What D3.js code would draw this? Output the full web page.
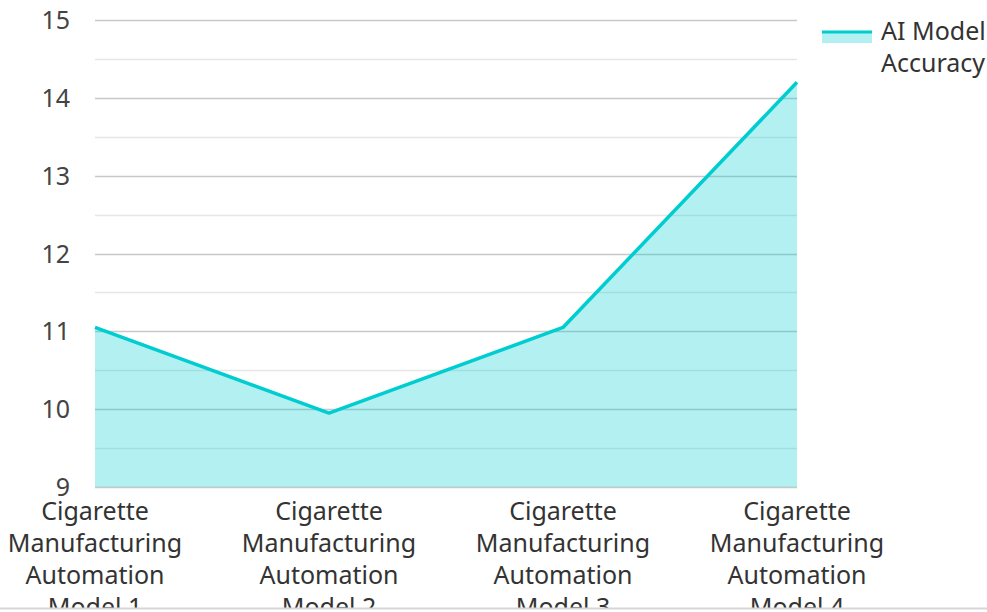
<!DOCTYPE html>
<html lang="en">
    <head>
        <meta charset="UTF-8" />
        <title>AI Model Accuracy</title>
        <style>
            body {
                margin: 0;
                background: #fff;
                font-family: 'Noto Sans', sans-serif;
            }
            .tick-label {
                font-size: 25px;
                fill: #444;
            }
            .cat-label {
                font-size: 25px;
                fill: #333;
            }
            .legend text {
                font-size: 25px;
                fill: #333;
            }
        </style>
    </head>
    <body>
        <svg width="987" height="612"></svg>
        <script src="https://d3js.org/d3.v7.min.js"></script>
        <script>
            const categories = [
                'Cigarette Manufacturing Automation Model 1',
                'Cigarette Manufacturing Automation Model 2',
                'Cigarette Manufacturing Automation Model 3',
                'Cigarette Manufacturing Automation Model 4'
            ];
            const accuracy = [11.05, 9.95, 11.05, 14.2];
            const majorTicks = [9, 10, 11, 12, 13, 14, 15];
            const minorTicks = [9.5, 10.5, 11.5, 12.5, 13.5, 14.5];
            const seriesName = ['AI Model', 'Accuracy'];

            const width = 987,
                height = 612;
            const color = '#00cdd0';
            const svg = d3.select('svg');

            const x = d3.scalePoint().domain(categories).range([95, 797]);
            const y = d3.scaleLinear().domain([9, 15]).range([487, 20]);

            // clip so the last label row gets cut like the original
            svg.append('clipPath').attr('id', 'page').append('rect').attr('width', width).attr('height', 608);
            const g = svg.append('g').attr('clip-path', 'url(#page)');

            g.selectAll('line.minor')
                .data(minorTicks)
                .enter()
                .append('line')
                .attr('x1', 95)
                .attr('x2', 797)
                .attr('y1', (d) => Math.round(y(d)) + 0.5)
                .attr('y2', (d) => Math.round(y(d)) + 0.5)
                .attr('stroke', '#e6e6e6')
                .attr('stroke-width', 1.5);

            g.selectAll('line.major')
                .data(majorTicks)
                .enter()
                .append('line')
                .attr('x1', 95)
                .attr('x2', 797)
                .attr('y1', (d) => Math.round(y(d)) + 0.5)
                .attr('y2', (d) => Math.round(y(d)) + 0.5)
                .attr('stroke', '#c8c8c8')
                .attr('stroke-width', 1.5);

            g.selectAll('text.tick-label')
                .data(majorTicks)
                .enter()
                .append('text')
                .attr('class', 'tick-label')
                .attr('x', 70)
                .attr('y', (d) => y(d))
                .attr('dy', '0.36em')
                .attr('text-anchor', 'end')
                .text((d) => d);

            const pts = categories.map((c, i) => [x(c), y(accuracy[i])]);

            g.append('path')
                .datum(pts)
                .attr('fill', color)
                .attr('fill-opacity', 0.3)
                .attr(
                    'd',
                    d3
                        .area()
                        .x((d) => d[0])
                        .y0(y(9))
                        .y1((d) => d[1])
                );

            g.append('path')
                .datum(pts)
                .attr('fill', 'none')
                .attr('stroke', color)
                .attr('stroke-width', 3.5)
                .attr('stroke-linejoin', 'round')
                .attr('d', d3.line());

            const labels = g
                .selectAll('text.cat-label')
                .data(categories)
                .enter()
                .append('text')
                .attr('class', 'cat-label')
                .attr('text-anchor', 'middle')
                .attr('x', (d) => x(d))
                .attr('y', 520);
            labels.each(function (d) {
                const words = ['Cigarette', 'Manufacturing', 'Automation', d.replace('Cigarette Manufacturing Automation ', '')];
                d3.select(this)
                    .selectAll('tspan')
                    .data(words)
                    .enter()
                    .append('tspan')
                    .attr('x', x(d))
                    .attr('dy', (w, i) => (i === 0 ? 0 : 32))
                    .text((w) => w);
            });

            // legend
            const legend = svg.append('g').attr('class', 'legend');
            legend.append('rect').attr('x', 822).attr('y', 31).attr('width', 50).attr('height', 12).attr('fill', color).attr('fill-opacity', 0.3);
            legend.append('line').attr('x1', 822).attr('x2', 872).attr('y1', 32).attr('y2', 32).attr('stroke', color).attr('stroke-width', 3);
            legend
                .selectAll('text')
                .data(seriesName)
                .enter()
                .append('text')
                .attr('x', 881)
                .attr('y', (d, i) => 40 + i * 32)
                .text((d) => d);

            // bottom edge line
            svg.append('line').attr('x1', 0).attr('x2', width).attr('y1', 608.5).attr('y2', 608.5).attr('stroke', '#d6d6d6').attr('stroke-width', 2);
        </script>
    </body>
</html>
